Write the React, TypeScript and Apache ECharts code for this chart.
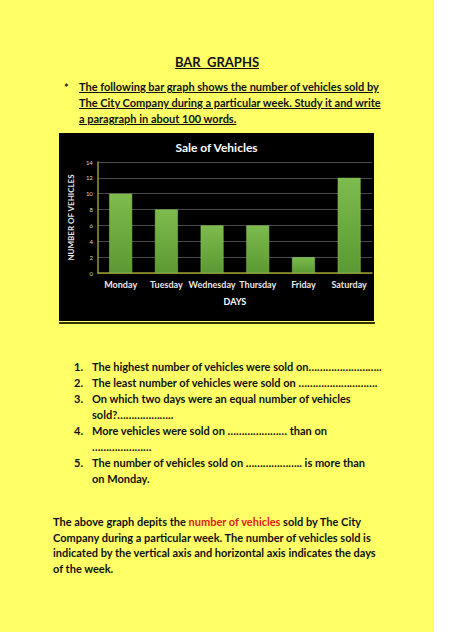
import React, { useEffect, useRef } from 'react';
import * as echarts from 'echarts';

// chart data
const days = ['Monday', 'Tuesday', 'Wednesday', 'Thursday', 'Friday', 'Saturday'];
const vehiclesSold = [10, 8, 6, 6, 2, 12];
const yMin = 0;
const yMax = 14;
const yStep = 2;

// worksheet text
const heading = 'BAR  GRAPHS';
const introLines = [
  'The following bar graph shows the number of vehicles sold by',
  'The City Company during a particular week. Study it and write',
  'a paragraph in about 100 words.'
];
const questions = [
  ['The highest number of vehicles were sold on……………………..'],
  ['The least number of vehicles were sold on ……………………….'],
  ['On which two days were an equal number of vehicles', 'sold?………………..'],
  ['More vehicles were sold on ………………… than on', '…………………'],
  ['The number of vehicles sold on ……………….. is more than', 'on Monday.']
];

const FONT = 'Lato, "Open Sans", "DejaVu Sans", sans-serif';

const SalesChart: React.FC = () => {
  const chartRef = useRef<HTMLDivElement>(null);

  useEffect(() => {
    if (!chartRef.current) return;
    const chart = echarts.init(chartRef.current, undefined, { renderer: 'svg' });

    const option = {
      animation: false,
      backgroundColor: '#000000',
      textStyle: { fontFamily: FONT },
      title: {
        text: 'Sale of Vehicles',
        left: 'center',
        top: 3,
        textStyle: { color: '#ffffff', fontSize: 12, fontWeight: 'bold', fontFamily: FONT }
      },
      grid: {
        left: 28,
        right: 2,
        top: 29,
        bottom: 48
      },
      xAxis: {
        type: 'category',
        data: days,
        name: 'DAYS',
        nameLocation: 'middle',
        nameGap: 24,
        nameTextStyle: { color: '#ffffff', fontSize: 9, fontWeight: 'bold', fontFamily: FONT },
        axisLine: { lineStyle: { color: '#9a9a2c', width: 1.5 } },
        axisTick: { show: false },
        axisLabel: {
          interval: 0,
          color: '#e8e8e8',
          fontSize: 9,
          fontWeight: 'bold',
          margin: 7,
          fontFamily: FONT
        }
      },
      yAxis: {
        type: 'value',
        min: yMin,
        max: yMax,
        interval: yStep,
        name: 'NUMBER OF VEHICLES',
        nameLocation: 'middle',
        nameGap: 18,
        nameTextStyle: { color: '#e8e8e8', fontSize: 8, fontWeight: 'bold', fontFamily: FONT },
        axisLine: { show: true, lineStyle: { color: '#9a9a2c', width: 1.5 } },
        axisTick: { show: false },
        axisLabel: { color: '#d8d8d8', fontSize: 6, margin: 5, fontFamily: FONT },
        splitLine: { lineStyle: { color: '#4a4a4a', width: 1 } }
      },
      series: [
        {
          name: 'Vehicles',
          type: 'bar',
          data: vehiclesSold,
          barWidth: '50%',
          itemStyle: {
            color: new echarts.graphic.LinearGradient(0, 0, 0, 1, [
              { offset: 0, color: '#7dbb4d' },
              { offset: 1, color: '#5a9a32' }
            ]),
            borderColor: '#8fcb5e',
            borderWidth: 0.5
          }
        }
      ]
    };

    chart.setOption(option);
    return () => {
      chart.dispose();
    };
  }, []);

  return <div ref={chartRef} style={{ width: 315, height: 188 }} />;
};

const App: React.FC = () => {
  const lineStyle: React.CSSProperties = {
    position: 'absolute',
    whiteSpace: 'pre',
    fontFamily: FONT,
    fontWeight: 'bold',
    fontSize: 11,
    lineHeight: '16px',
    color: '#111111'
  };

  return (
    <div
      style={{
        position: 'absolute',
        left: 0,
        top: 0,
        width: 474,
        height: 632,
        background: '#ffffff',
        overflow: 'hidden'
      }}
    >
      <div style={{ position: 'absolute', left: 0, top: 0, width: 434, height: 632, background: '#ffff66' }} />

      <div
        style={{
          ...lineStyle,
          left: 0,
          width: 434,
          top: 54,
          textAlign: 'center',
          fontSize: 13,
          textDecoration: 'underline'
        }}
      >
        {heading}
      </div>

      <div style={{ ...lineStyle, left: 64, top: 80 }}>*</div>
      {introLines.map((t, i) => (
        <div key={t} style={{ ...lineStyle, left: 79, top: 79 + i * 16, textDecoration: 'underline' }}>
          {t}
        </div>
      ))}

      <div style={{ position: 'absolute', left: 59, top: 133, background: '#000' }}>
        <SalesChart />
      </div>
      <div style={{ position: 'absolute', left: 59, top: 322, width: 316, height: 2, background: '#333300' }} />

      {(() => {
        let row = 0;
        return questions.map((q, qi) => {
          const rows = q.map((t, li) => {
            const top = 359 + row * 16;
            row += 1;
            return (
              <React.Fragment key={qi + '-' + li}>
                {li === 0 && <div style={{ ...lineStyle, left: 74, top }}>{qi + 1 + '.'}</div>}
                <div style={{ ...lineStyle, left: 92, top }}>{t}</div>
              </React.Fragment>
            );
          });
          return rows;
        });
      })()}

      <div style={{ ...lineStyle, left: 53, top: 514, lineHeight: '15.6px', whiteSpace: 'nowrap' }}>
        The above graph depits the <span style={{ color: '#e0201a' }}>number of vehicles</span> sold by The City
        <br />
        Company during a particular week. The number of vehicles sold is
        <br />
        indicated by the vertical axis and horizontal axis indicates the days
        <br />
        of the week.
      </div>
    </div>
  );
};

export default App;
